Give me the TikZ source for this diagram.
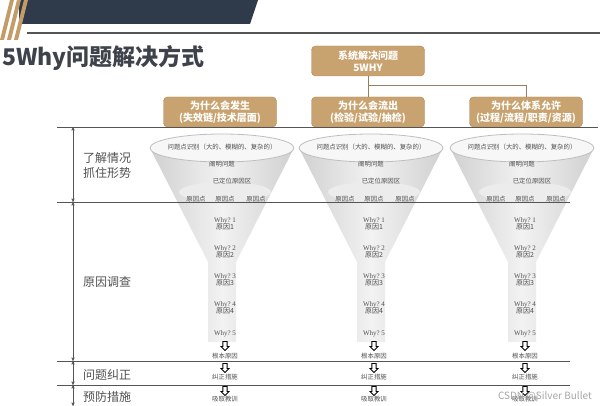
\documentclass[tikz,border=0pt]{standalone}
\usepackage{fontspec}
\setmainfont{Noto Sans CJK SC}
\newfontfamily\whyfont{Liberation Serif}
\usetikzlibrary{arrows,positioning,shapes.arrows}
\definecolor{bandblue}{RGB}{47,58,74}
\definecolor{stripetan}{RGB}{196,156,104}
\definecolor{boxtan}{RGB}{201,163,111}
\definecolor{linkbrown}{RGB}{150,128,98}
\definecolor{rulegray}{RGB}{85,85,85}
\definecolor{titlegray}{RGB}{62,66,75}
\definecolor{textgray}{RGB}{80,80,80}
\definecolor{funnelgray}{RGB}{208,208,208}
\definecolor{funnellight}{RGB}{242,242,242}
\definecolor{rimgray}{RGB}{190,190,190}
\definecolor{rimfill}{RGB}{247,247,247}
\definecolor{innerfill}{RGB}{236,236,236}
\tikzset{>=stealth',
  tanbox/.style={draw=boxtan!85!black,fill=boxtan,rounded corners=4pt,
    minimum width=113pt,minimum height=30pt,inner sep=1pt,align=center,
    text=white,font=\bfseries\fontsize{10}{11.5}\selectfont},
  link/.style={draw=linkbrown,line width=0.8pt},
  rule/.style={draw=rulegray,line width=0.8pt},
  stage/.style={anchor=west,align=left,text=textgray,inner sep=0pt,
    font=\fontsize{12}{15}\selectfont},
  ftext/.style={text=textgray,inner sep=0pt,font=\fontsize{6.4}{7.5}\selectfont},
  wtext/.style={text=textgray,inner sep=0pt,align=center,
    font=\fontsize{7}{7.5}\selectfont},
  downarrow/.style={single arrow,draw=black,fill=white,line width=0.8pt,
    rotate=-90,minimum height=9pt,minimum width=8pt,inner sep=1.4pt,
    single arrow head extend=1.6pt},
  funnel/.pic={
    \shade[left color=funnelgray,right color=funnelgray,middle color=funnellight]
      (-72,148) -- (-14,262) -- (-14,342) -- (14,342) -- (14,262) -- (72,148) -- cycle;
    \draw[rimgray,fill=rimfill,line width=0.8pt] (0,148) ellipse [x radius=72,y radius=14];
    \fill[innerfill] (3,192) ellipse [x radius=46,y radius=10];
    \node[ftext] (-q) at (0,147) {问题点识别（大的、模糊的、复杂的）};
    \node[ftext] (-c) at (0,164) {阐明问题};
    \node[ftext] (-z) at (10,181) {已定位原因区};
    \node[ftext] (-p1) at (-26,199) {原因点};
    \node[ftext] (-p2) at (3,199) {原因点};
    \node[ftext] (-p3) at (34,199) {原因点};
    \foreach \i/\y in {1/224,2/252,3/280,4/308}
      \node[wtext] (-w\i) at (3,\y) {{\whyfont Why?\ \i}\\原因\i};
    \node[wtext] (-w5) at (3,334) {\whyfont Why?\ 5};
    \node[downarrow] (-a1) at (3,345) {};
    \node[ftext] (-root) at (3,356) {根本原因};
    \node[downarrow] (-a2) at (3,367) {};
    \node[ftext] (-fix) at (3,377) {纠正措施};
    \node[downarrow] (-a3) at (3,390) {};
    \node[ftext] (-learn) at (3,399) {吸取教训};
  }
}

\begin{document}
\begin{tikzpicture}[x=1pt,y=-1pt]
  \useasboundingbox (0,0) rectangle (600,406);
  \fill[bandblue] (19,0) -- (258,0) -- (250,24) -- (19,24) -- cycle;
  \foreach \dx in {0,7,14}
    \fill[stripetan] (\dx,40) -- (\dx+4,40) -- (\dx+14,0) -- (\dx+10,0) -- cycle;
  \draw[rulegray,line width=1.6pt] (27,33) -- (600,33);
  \node[anchor=west,inner sep=0pt,text=titlegray,
    font=\bfseries\fontsize{23}{26}\selectfont] (title) at (2,58) {5Why问题解决方式};

  \node[tanbox] (top) at (368,61) {系统解决问题\\5WHY};
  \node[tanbox] (occur) at (220,112) {为什么会发生\\(失效链/技术层面)};
  \node[tanbox] (escape) at (368,112) {为什么会流出\\(检验/试验/抽检)};
  \node[tanbox] (system) at (526,112) {为什么体系允许\\(过程/流程/职责/资源)};
  \draw[link] (top) -- (escape);
  \draw[link] (top.south) -- ++(0,9) -| (system);

  \pic (fa) at (222,0) {funnel};
  \pic (fb) at (371,0) {funnel};
  \pic (fc) at (522,0) {funnel};

  \foreach \n/\y/\e in {0/127/598,1/202/570,2/361/570,3/385/570}{
    \coordinate (r\n) at (57,\y);
    \coordinate (e\n) at (\e,\y);
    \coordinate (s\n) at (73,\y);
    \draw[rule] (r\n) -- (e\n);
  }
  \coordinate (s4) at (73,406);
  \draw[<->,rulegray] (s0) -- (s1);
  \draw[<->,rulegray] (s1) -- (s2);
  \draw[<->,rulegray] (s2) -- (s3);
  \draw[<->,rulegray] (s3) -- (s4);

  \node[stage] (know) at (83,165) {了解情况\\抓住形势};
  \node[stage] (cause) at (83,282) {原因调查};
  \node[stage] (correct) at (83,375) {问题纠正};
  \node[stage] (prevent) at (83,397) {预防措施};

  \node[anchor=east,inner sep=0pt,text=gray!70,font=\fontsize{10}{12}\selectfont]
    (mark) at (592,396) {CSDN @Silver Bullet};
\end{tikzpicture}
\end{document}
